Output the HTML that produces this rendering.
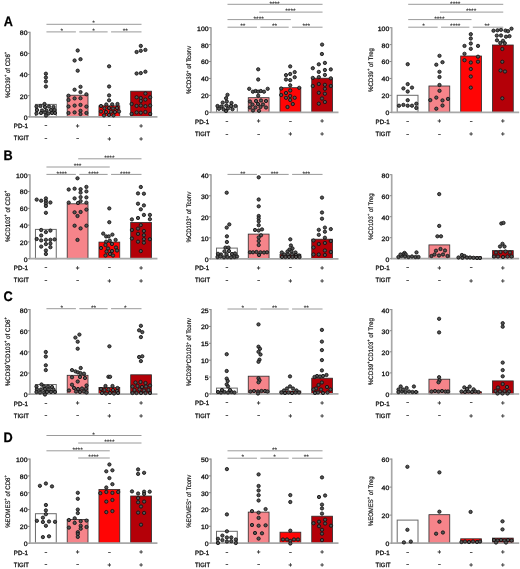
<!DOCTYPE html>
<html><head><meta charset="utf-8"><title>Figure</title><style>
html,body{margin:0;padding:0;background:#fff;}
svg{display:block;font-family:"Liberation Sans", Arial, sans-serif;text-rendering:geometricPrecision;}
.L{font-size:13.8px;font-weight:bold;fill:#000;stroke:#000;stroke-width:0.25;}
.bar{stroke:#2a2a2a;stroke-width:0.8;}
.bar0{stroke:#6a6a6a;stroke-width:1;}
.d{fill:#555;stroke:#111;stroke-width:0.85;}
.ax{stroke:#a8a8a8;stroke-width:1.7;fill:none;}
.sg{stroke:#9a9a9a;stroke-width:1;fill:none;}
.t{font-size:6.3px;text-anchor:end;fill:#111;stroke:#111;stroke-width:0.28;}
.st{font-size:6.6px;text-anchor:middle;fill:#111;stroke:#111;stroke-width:0.08;}
.r{font-size:6.2px;fill:#111;stroke:#111;stroke-width:0.3;}
.pm{font-size:6.3px;text-anchor:middle;fill:#222;stroke:#222;stroke-width:0.3;}
.yl{font-size:6.5px;text-anchor:middle;fill:#111;stroke:#111;stroke-width:0.18;}
.tk{stroke:#888;stroke-width:1;}
.mn{stroke:#333;stroke-width:0.85;}
.pl{stroke:#222;stroke-width:0.85;}
.sup{font-size:4.3px;}
</style></head>
<body><svg width="520" height="569" viewBox="0 0 520 569">
<text transform="translate(3.7 26.4) scale(0.92 1)" class="L">A</text>
<text transform="translate(3.5 160.4) scale(0.92 1)" class="L">B</text>
<text transform="translate(3.6 300.5) scale(0.92 1)" class="L">C</text>
<text transform="translate(3.5 442.4) scale(0.92 1)" class="L">D</text>
<rect x="35.45" y="104.4" width="20.8" height="12.4" fill="#ffffff" class="bar0"/>
<rect x="67.2" y="95.2" width="20.8" height="21.6" fill="#f6848a" class="bar"/>
<rect x="98.95" y="105.8" width="20.8" height="11" fill="#ff0505" class="bar"/>
<rect x="130.7" y="91.2" width="20.8" height="25.6" fill="#b40008" class="bar"/>
<path d="M29.95 31.8V116.8H157.45" class="ax"/>
<path d="M27.95 116.8H29.95" class="tk"/>
<text transform="translate(27.55 119.7) scale(1.1 1)" class="t">0</text>
<path d="M27.95 95.67H29.95" class="tk"/>
<text transform="translate(27.55 98.58) scale(1.1 1)" class="t">20</text>
<path d="M27.95 74.55H29.95" class="tk"/>
<text transform="translate(27.55 77.45) scale(1.1 1)" class="t">40</text>
<path d="M27.95 53.42H29.95" class="tk"/>
<text transform="translate(27.55 56.32) scale(1.1 1)" class="t">60</text>
<path d="M27.95 32.3H29.95" class="tk"/>
<text transform="translate(27.55 35.2) scale(1.1 1)" class="t">80</text>
<circle cx="45.9" cy="73.7" r="1.65" class="d"/>
<circle cx="45.9" cy="77.5" r="1.65" class="d"/>
<circle cx="45.9" cy="81.4" r="1.65" class="d"/>
<circle cx="45.9" cy="86.5" r="1.65" class="d"/>
<circle cx="44.5" cy="104" r="1.65" class="d"/>
<circle cx="36.5" cy="106.5" r="1.65" class="d"/>
<circle cx="40.5" cy="106" r="1.65" class="d"/>
<circle cx="45" cy="107" r="1.65" class="d"/>
<circle cx="49" cy="106.5" r="1.65" class="d"/>
<circle cx="53.5" cy="107" r="1.65" class="d"/>
<circle cx="37" cy="110" r="1.65" class="d"/>
<circle cx="42" cy="110.5" r="1.65" class="d"/>
<circle cx="46.5" cy="110.5" r="1.65" class="d"/>
<circle cx="51" cy="110" r="1.65" class="d"/>
<circle cx="54.5" cy="110" r="1.65" class="d"/>
<circle cx="36.5" cy="113.5" r="1.65" class="d"/>
<circle cx="41" cy="113" r="1.65" class="d"/>
<circle cx="45" cy="112.5" r="1.65" class="d"/>
<circle cx="48.5" cy="113.5" r="1.65" class="d"/>
<circle cx="52" cy="113" r="1.65" class="d"/>
<circle cx="55" cy="113" r="1.65" class="d"/>
<circle cx="46" cy="115.5" r="1.65" class="d"/>
<circle cx="77.7" cy="50.5" r="1.65" class="d"/>
<circle cx="74.6" cy="60.5" r="1.65" class="d"/>
<circle cx="80.5" cy="59.2" r="1.65" class="d"/>
<circle cx="77.7" cy="70.7" r="1.65" class="d"/>
<circle cx="74.6" cy="89.7" r="1.65" class="d"/>
<circle cx="80.5" cy="86.8" r="1.65" class="d"/>
<circle cx="80.5" cy="92.1" r="1.65" class="d"/>
<circle cx="86.4" cy="94.3" r="1.65" class="d"/>
<circle cx="68.5" cy="95.7" r="1.65" class="d"/>
<circle cx="68.5" cy="100" r="1.65" class="d"/>
<circle cx="74.6" cy="98.4" r="1.65" class="d"/>
<circle cx="80.5" cy="98.2" r="1.65" class="d"/>
<circle cx="68.5" cy="106.5" r="1.65" class="d"/>
<circle cx="74.6" cy="105.6" r="1.65" class="d"/>
<circle cx="80.5" cy="104.9" r="1.65" class="d"/>
<circle cx="86.4" cy="106.6" r="1.65" class="d"/>
<circle cx="68.5" cy="113" r="1.65" class="d"/>
<circle cx="74.6" cy="112.4" r="1.65" class="d"/>
<circle cx="80.5" cy="110.8" r="1.65" class="d"/>
<circle cx="80.5" cy="114" r="1.65" class="d"/>
<circle cx="86.4" cy="113" r="1.65" class="d"/>
<circle cx="109.1" cy="66.3" r="1.65" class="d"/>
<circle cx="109.1" cy="86.5" r="1.65" class="d"/>
<circle cx="109.1" cy="95.4" r="1.65" class="d"/>
<circle cx="109.1" cy="100.3" r="1.65" class="d"/>
<circle cx="106.3" cy="104.5" r="1.65" class="d"/>
<circle cx="112.2" cy="104.3" r="1.65" class="d"/>
<circle cx="117.5" cy="104" r="1.65" class="d"/>
<circle cx="101" cy="106" r="1.65" class="d"/>
<circle cx="104.5" cy="108.3" r="1.65" class="d"/>
<circle cx="109" cy="108" r="1.65" class="d"/>
<circle cx="113" cy="108.5" r="1.65" class="d"/>
<circle cx="117" cy="108" r="1.65" class="d"/>
<circle cx="101" cy="111.5" r="1.65" class="d"/>
<circle cx="106" cy="112" r="1.65" class="d"/>
<circle cx="111" cy="111.8" r="1.65" class="d"/>
<circle cx="115" cy="112" r="1.65" class="d"/>
<circle cx="119" cy="111.5" r="1.65" class="d"/>
<circle cx="104" cy="115.4" r="1.65" class="d"/>
<circle cx="109" cy="115" r="1.65" class="d"/>
<circle cx="113.5" cy="115.4" r="1.65" class="d"/>
<circle cx="140.8" cy="45.9" r="1.65" class="d"/>
<circle cx="136.6" cy="52" r="1.65" class="d"/>
<circle cx="140.8" cy="50.8" r="1.65" class="d"/>
<circle cx="145.4" cy="49.9" r="1.65" class="d"/>
<circle cx="136.6" cy="73.5" r="1.65" class="d"/>
<circle cx="140.8" cy="73.1" r="1.65" class="d"/>
<circle cx="145.4" cy="71.7" r="1.65" class="d"/>
<circle cx="145.4" cy="93.5" r="1.65" class="d"/>
<circle cx="136.6" cy="97.3" r="1.65" class="d"/>
<circle cx="140.8" cy="98" r="1.65" class="d"/>
<circle cx="150.2" cy="97.3" r="1.65" class="d"/>
<circle cx="140.8" cy="101" r="1.65" class="d"/>
<circle cx="145.4" cy="99.6" r="1.65" class="d"/>
<circle cx="131.6" cy="104" r="1.65" class="d"/>
<circle cx="136.6" cy="105.9" r="1.65" class="d"/>
<circle cx="140.8" cy="105.5" r="1.65" class="d"/>
<circle cx="145.4" cy="106.2" r="1.65" class="d"/>
<circle cx="150.2" cy="105.5" r="1.65" class="d"/>
<circle cx="136.6" cy="112.4" r="1.65" class="d"/>
<circle cx="140.8" cy="112.7" r="1.65" class="d"/>
<circle cx="145.4" cy="112" r="1.65" class="d"/>
<circle cx="131.6" cy="113.9" r="1.65" class="d"/>
<circle cx="150.2" cy="113.9" r="1.65" class="d"/>
<path d="M46.45 24.3H141.5" class="sg"/>
<text x="93.47" y="25.4" class="st">*</text>
<path d="M46.45 31.9H75.9" class="sg"/>
<text x="61.72" y="33" class="st">*</text>
<path d="M79.3 31.9H107.65" class="sg"/>
<text x="93.47" y="33" class="st">*</text>
<path d="M111.05 31.9H141.5" class="sg"/>
<text x="125.22" y="33" class="st">**</text>
<text x="13.8" y="128.3" class="r">PD-1</text>
<text x="13.8" y="140.47" class="r" textLength="15.0" lengthAdjust="spacingAndGlyphs">TIGIT</text>
<text transform="translate(45.85 127.2) scale(1.35 1)" class="pm">-</text>
<text transform="translate(45.85 140) scale(1.35 1)" class="pm">-</text>
<text x="77.6" y="127.95" class="pm">+</text>
<text transform="translate(77.6 140) scale(1.35 1)" class="pm">-</text>
<text transform="translate(109.35 127.2) scale(1.35 1)" class="pm">-</text>
<text x="109.35" y="140.75" class="pm">+</text>
<text x="141.1" y="127.95" class="pm">+</text>
<text x="141.1" y="140.75" class="pm">+</text>
<text transform="translate(10.1 74.9) rotate(-90)" class="yl" textLength="46.2" lengthAdjust="spacingAndGlyphs">%CD39<tspan class="sup" dy="-2.9">+</tspan><tspan dy="2.9">&#8203;</tspan>&#160;of&#160;CD8<tspan class="sup" dy="-2.9">+</tspan><tspan dy="2.9">&#8203;</tspan></text>
<rect x="216.5" y="105.9" width="20.8" height="6.4" fill="#ffffff" class="bar0"/>
<rect x="248.25" y="97.7" width="20.8" height="14.6" fill="#f6848a" class="bar"/>
<rect x="280" y="87.7" width="20.8" height="24.6" fill="#ff0505" class="bar"/>
<rect x="311.75" y="78.2" width="20.8" height="34.1" fill="#b40008" class="bar"/>
<path d="M211 27.2V112.3H338.5" class="ax"/>
<path d="M209 112.3H211" class="tk"/>
<text transform="translate(208.6 115.2) scale(1.1 1)" class="t">0</text>
<path d="M209 95.38H211" class="tk"/>
<text transform="translate(208.6 98.28) scale(1.1 1)" class="t">20</text>
<path d="M209 78.46H211" class="tk"/>
<text transform="translate(208.6 81.36) scale(1.1 1)" class="t">40</text>
<path d="M209 61.54H211" class="tk"/>
<text transform="translate(208.6 64.44) scale(1.1 1)" class="t">60</text>
<path d="M209 44.62H211" class="tk"/>
<text transform="translate(208.6 47.52) scale(1.1 1)" class="t">80</text>
<path d="M209 27.7H211" class="tk"/>
<text transform="translate(208.6 30.6) scale(1.1 1)" class="t">100</text>
<circle cx="227.5" cy="94.8" r="1.65" class="d"/>
<circle cx="226.1" cy="98.2" r="1.65" class="d"/>
<circle cx="222.7" cy="102.6" r="1.65" class="d"/>
<circle cx="226.8" cy="101.5" r="1.65" class="d"/>
<circle cx="231.5" cy="103" r="1.65" class="d"/>
<circle cx="217.5" cy="106" r="1.65" class="d"/>
<circle cx="221.5" cy="106.5" r="1.65" class="d"/>
<circle cx="226.5" cy="105.5" r="1.65" class="d"/>
<circle cx="231" cy="106" r="1.65" class="d"/>
<circle cx="235.5" cy="106" r="1.65" class="d"/>
<circle cx="219" cy="108.8" r="1.65" class="d"/>
<circle cx="223.5" cy="109.2" r="1.65" class="d"/>
<circle cx="228" cy="108.5" r="1.65" class="d"/>
<circle cx="232.5" cy="109.2" r="1.65" class="d"/>
<circle cx="226" cy="111" r="1.65" class="d"/>
<circle cx="258.2" cy="69.3" r="1.65" class="d"/>
<circle cx="258.2" cy="79.5" r="1.65" class="d"/>
<circle cx="249.2" cy="88.8" r="1.65" class="d"/>
<circle cx="252.9" cy="91.7" r="1.65" class="d"/>
<circle cx="255.6" cy="91" r="1.65" class="d"/>
<circle cx="258.2" cy="91.7" r="1.65" class="d"/>
<circle cx="260.8" cy="91" r="1.65" class="d"/>
<circle cx="264" cy="91.7" r="1.65" class="d"/>
<circle cx="267.7" cy="88.8" r="1.65" class="d"/>
<circle cx="258.2" cy="95.7" r="1.65" class="d"/>
<circle cx="250" cy="101.5" r="1.65" class="d"/>
<circle cx="256" cy="101" r="1.65" class="d"/>
<circle cx="261" cy="100.5" r="1.65" class="d"/>
<circle cx="266" cy="101" r="1.65" class="d"/>
<circle cx="252.5" cy="104.5" r="1.65" class="d"/>
<circle cx="258" cy="104" r="1.65" class="d"/>
<circle cx="263" cy="104.5" r="1.65" class="d"/>
<circle cx="250" cy="107.5" r="1.65" class="d"/>
<circle cx="255.5" cy="107.5" r="1.65" class="d"/>
<circle cx="260.5" cy="107" r="1.65" class="d"/>
<circle cx="266" cy="107.5" r="1.65" class="d"/>
<circle cx="253" cy="110.5" r="1.65" class="d"/>
<circle cx="259" cy="110.8" r="1.65" class="d"/>
<circle cx="290.2" cy="66.4" r="1.65" class="d"/>
<circle cx="286" cy="75.1" r="1.65" class="d"/>
<circle cx="290.2" cy="74" r="1.65" class="d"/>
<circle cx="294.7" cy="72.1" r="1.65" class="d"/>
<circle cx="286" cy="79.5" r="1.65" class="d"/>
<circle cx="290.2" cy="80.1" r="1.65" class="d"/>
<circle cx="294.7" cy="77.2" r="1.65" class="d"/>
<circle cx="290.2" cy="85.3" r="1.65" class="d"/>
<circle cx="281.2" cy="88.5" r="1.65" class="d"/>
<circle cx="299.2" cy="87.8" r="1.65" class="d"/>
<circle cx="290.2" cy="90.5" r="1.65" class="d"/>
<circle cx="286" cy="93" r="1.65" class="d"/>
<circle cx="281.2" cy="95" r="1.65" class="d"/>
<circle cx="290.2" cy="96" r="1.65" class="d"/>
<circle cx="286" cy="97.8" r="1.65" class="d"/>
<circle cx="294.7" cy="97.8" r="1.65" class="d"/>
<circle cx="290.2" cy="100" r="1.65" class="d"/>
<circle cx="292.8" cy="104" r="1.65" class="d"/>
<circle cx="287.5" cy="107" r="1.65" class="d"/>
<circle cx="322.1" cy="44.6" r="1.65" class="d"/>
<circle cx="321.9" cy="54" r="1.65" class="d"/>
<circle cx="318.8" cy="64.3" r="1.65" class="d"/>
<circle cx="324.9" cy="62.9" r="1.65" class="d"/>
<circle cx="312.8" cy="68.2" r="1.65" class="d"/>
<circle cx="318.8" cy="71.9" r="1.65" class="d"/>
<circle cx="324.9" cy="70" r="1.65" class="d"/>
<circle cx="330.8" cy="69.4" r="1.65" class="d"/>
<circle cx="324.9" cy="74.9" r="1.65" class="d"/>
<circle cx="312.8" cy="77.9" r="1.65" class="d"/>
<circle cx="318.8" cy="77.1" r="1.65" class="d"/>
<circle cx="330.8" cy="78.3" r="1.65" class="d"/>
<circle cx="318.8" cy="84" r="1.65" class="d"/>
<circle cx="324.9" cy="84.8" r="1.65" class="d"/>
<circle cx="312.8" cy="86" r="1.65" class="d"/>
<circle cx="330.8" cy="86" r="1.65" class="d"/>
<circle cx="324.9" cy="88.8" r="1.65" class="d"/>
<circle cx="318.8" cy="92.8" r="1.65" class="d"/>
<circle cx="324.9" cy="93.7" r="1.65" class="d"/>
<circle cx="322" cy="98.5" r="1.65" class="d"/>
<circle cx="324.9" cy="102" r="1.65" class="d"/>
<circle cx="318.8" cy="103.7" r="1.65" class="d"/>
<path d="M227.5 4.3H322.55" class="sg"/>
<text x="274.52" y="6.2" class="st">****</text>
<path d="M259.25 12.1H322.55" class="sg"/>
<text x="290.4" y="13.2" class="st">****</text>
<path d="M227.5 19.6H290.8" class="sg"/>
<text x="258.65" y="20.7" class="st">****</text>
<path d="M227.5 27.2H256.95" class="sg"/>
<text x="242.77" y="28.3" class="st">**</text>
<path d="M260.35 27.2H288.7" class="sg"/>
<text x="274.52" y="28.3" class="st">**</text>
<path d="M292.1 27.2H322.55" class="sg"/>
<text x="306.27" y="28.3" class="st">***</text>
<text x="195" y="123.8" class="r">PD-1</text>
<text x="195" y="135.97" class="r" textLength="15.0" lengthAdjust="spacingAndGlyphs">TIGIT</text>
<text transform="translate(226.9 122.7) scale(1.35 1)" class="pm">-</text>
<text transform="translate(226.9 135.5) scale(1.35 1)" class="pm">-</text>
<text x="258.65" y="123.45" class="pm">+</text>
<text transform="translate(258.65 135.5) scale(1.35 1)" class="pm">-</text>
<text transform="translate(290.4 122.7) scale(1.35 1)" class="pm">-</text>
<text x="290.4" y="136.25" class="pm">+</text>
<text x="322.15" y="123.45" class="pm">+</text>
<text x="322.15" y="136.25" class="pm">+</text>
<text transform="translate(191.4 70) rotate(-90)" class="yl" textLength="48" lengthAdjust="spacingAndGlyphs">%CD39<tspan class="sup" dy="-2.9">+</tspan><tspan dy="2.9">&#8203;</tspan>&#160;of&#160;Tconv</text>
<rect x="397.2" y="95.3" width="20.8" height="17" fill="#ffffff" class="bar0"/>
<rect x="428.95" y="86" width="20.8" height="26.3" fill="#f6848a" class="bar"/>
<rect x="460.7" y="56" width="20.8" height="56.3" fill="#ff0505" class="bar"/>
<rect x="492.45" y="45" width="20.8" height="67.3" fill="#b40008" class="bar"/>
<path d="M391.7 27.2V112.3H519.2" class="ax"/>
<path d="M389.7 112.3H391.7" class="tk"/>
<text transform="translate(389.3 115.2) scale(1.1 1)" class="t">0</text>
<path d="M389.7 95.38H391.7" class="tk"/>
<text transform="translate(389.3 98.28) scale(1.1 1)" class="t">20</text>
<path d="M389.7 78.46H391.7" class="tk"/>
<text transform="translate(389.3 81.36) scale(1.1 1)" class="t">40</text>
<path d="M389.7 61.54H391.7" class="tk"/>
<text transform="translate(389.3 64.44) scale(1.1 1)" class="t">60</text>
<path d="M389.7 44.62H391.7" class="tk"/>
<text transform="translate(389.3 47.52) scale(1.1 1)" class="t">80</text>
<path d="M389.7 27.7H391.7" class="tk"/>
<text transform="translate(389.3 30.6) scale(1.1 1)" class="t">100</text>
<circle cx="407.7" cy="64.2" r="1.65" class="d"/>
<circle cx="407.7" cy="84.1" r="1.65" class="d"/>
<circle cx="403.4" cy="88.4" r="1.65" class="d"/>
<circle cx="412" cy="87.6" r="1.65" class="d"/>
<circle cx="407.7" cy="91.5" r="1.65" class="d"/>
<circle cx="407.7" cy="100.2" r="1.65" class="d"/>
<circle cx="399" cy="105.7" r="1.65" class="d"/>
<circle cx="403.4" cy="104.9" r="1.65" class="d"/>
<circle cx="407.7" cy="105.7" r="1.65" class="d"/>
<circle cx="412" cy="105.7" r="1.65" class="d"/>
<circle cx="416.3" cy="103.7" r="1.65" class="d"/>
<circle cx="416.3" cy="108" r="1.65" class="d"/>
<circle cx="439.5" cy="55.8" r="1.65" class="d"/>
<circle cx="442.5" cy="62.2" r="1.65" class="d"/>
<circle cx="436.3" cy="64.7" r="1.65" class="d"/>
<circle cx="439.5" cy="71.8" r="1.65" class="d"/>
<circle cx="439.5" cy="77" r="1.65" class="d"/>
<circle cx="439.5" cy="85" r="1.65" class="d"/>
<circle cx="439.5" cy="90.8" r="1.65" class="d"/>
<circle cx="430.3" cy="100.1" r="1.65" class="d"/>
<circle cx="436.3" cy="97.6" r="1.65" class="d"/>
<circle cx="442.5" cy="100.4" r="1.65" class="d"/>
<circle cx="448" cy="98.9" r="1.65" class="d"/>
<circle cx="442.5" cy="105.5" r="1.65" class="d"/>
<circle cx="436.3" cy="108.7" r="1.65" class="d"/>
<circle cx="470.8" cy="34.2" r="1.65" class="d"/>
<circle cx="470.8" cy="38.5" r="1.65" class="d"/>
<circle cx="470.8" cy="43.5" r="1.65" class="d"/>
<circle cx="464.5" cy="45.9" r="1.65" class="d"/>
<circle cx="478" cy="45.9" r="1.65" class="d"/>
<circle cx="470.8" cy="48.8" r="1.65" class="d"/>
<circle cx="464.5" cy="53.8" r="1.65" class="d"/>
<circle cx="478" cy="56.7" r="1.65" class="d"/>
<circle cx="464.5" cy="60.2" r="1.65" class="d"/>
<circle cx="470.8" cy="62.5" r="1.65" class="d"/>
<circle cx="478" cy="61.7" r="1.65" class="d"/>
<circle cx="470.8" cy="69" r="1.65" class="d"/>
<circle cx="470.8" cy="76.5" r="1.65" class="d"/>
<circle cx="470.8" cy="87.6" r="1.65" class="d"/>
<circle cx="493.5" cy="30.7" r="1.65" class="d"/>
<circle cx="497.5" cy="30.3" r="1.65" class="d"/>
<circle cx="501" cy="29.8" r="1.65" class="d"/>
<circle cx="505.5" cy="30.6" r="1.65" class="d"/>
<circle cx="508" cy="31.2" r="1.65" class="d"/>
<circle cx="511.5" cy="28.7" r="1.65" class="d"/>
<circle cx="496.8" cy="35.6" r="1.65" class="d"/>
<circle cx="501" cy="35.5" r="1.65" class="d"/>
<circle cx="506" cy="36.7" r="1.65" class="d"/>
<circle cx="509.5" cy="36.2" r="1.65" class="d"/>
<circle cx="497" cy="40.3" r="1.65" class="d"/>
<circle cx="503" cy="40.8" r="1.65" class="d"/>
<circle cx="500.3" cy="43" r="1.65" class="d"/>
<circle cx="504.8" cy="43.2" r="1.65" class="d"/>
<circle cx="502.3" cy="49" r="1.65" class="d"/>
<circle cx="502.3" cy="61.8" r="1.65" class="d"/>
<circle cx="500.5" cy="70.5" r="1.65" class="d"/>
<circle cx="505" cy="71.5" r="1.65" class="d"/>
<circle cx="502.3" cy="98.3" r="1.65" class="d"/>
<path d="M408.2 4.3H503.25" class="sg"/>
<text x="455.23" y="6.2" class="st">****</text>
<path d="M439.95 12.1H503.25" class="sg"/>
<text x="471.1" y="13.2" class="st">****</text>
<path d="M408.2 19.6H471.5" class="sg"/>
<text x="439.35" y="20.7" class="st">****</text>
<path d="M408.2 27.2H437.65" class="sg"/>
<text x="423.47" y="28.3" class="st">*</text>
<path d="M441.05 27.2H469.4" class="sg"/>
<text x="455.23" y="28.3" class="st">****</text>
<path d="M472.8 27.2H503.25" class="sg"/>
<text x="486.98" y="28.3" class="st">**</text>
<text x="375.6" y="123.8" class="r">PD-1</text>
<text x="375.6" y="135.97" class="r" textLength="15.0" lengthAdjust="spacingAndGlyphs">TIGIT</text>
<text transform="translate(407.6 122.7) scale(1.35 1)" class="pm">-</text>
<text transform="translate(407.6 135.5) scale(1.35 1)" class="pm">-</text>
<text x="439.35" y="123.45" class="pm">+</text>
<text transform="translate(439.35 135.5) scale(1.35 1)" class="pm">-</text>
<text transform="translate(471.1 122.7) scale(1.35 1)" class="pm">-</text>
<text x="471.1" y="136.25" class="pm">+</text>
<text x="502.85" y="123.45" class="pm">+</text>
<text x="502.85" y="136.25" class="pm">+</text>
<text transform="translate(372.6 70) rotate(-90)" class="yl" textLength="44" lengthAdjust="spacingAndGlyphs">%CD39<tspan class="sup" dy="-2.9">+</tspan><tspan dy="2.9">&#8203;</tspan>&#160;of&#160;Treg</text>
<rect x="35.45" y="229.4" width="20.8" height="29.3" fill="#ffffff" class="bar0"/>
<rect x="67.2" y="203.8" width="20.8" height="54.9" fill="#f6848a" class="bar"/>
<rect x="98.95" y="242.1" width="20.8" height="16.6" fill="#ff0505" class="bar"/>
<rect x="130.7" y="222.5" width="20.8" height="36.2" fill="#b40008" class="bar"/>
<path d="M29.95 174.3V258.7H157.45" class="ax"/>
<path d="M27.95 258.7H29.95" class="tk"/>
<text transform="translate(27.55 261.6) scale(1.1 1)" class="t">0</text>
<path d="M27.95 241.92H29.95" class="tk"/>
<text transform="translate(27.55 244.82) scale(1.1 1)" class="t">20</text>
<path d="M27.95 225.14H29.95" class="tk"/>
<text transform="translate(27.55 228.04) scale(1.1 1)" class="t">40</text>
<path d="M27.95 208.36H29.95" class="tk"/>
<text transform="translate(27.55 211.26) scale(1.1 1)" class="t">60</text>
<path d="M27.95 191.58H29.95" class="tk"/>
<text transform="translate(27.55 194.48) scale(1.1 1)" class="t">80</text>
<path d="M27.95 174.8H29.95" class="tk"/>
<text transform="translate(27.55 177.7) scale(1.1 1)" class="t">100</text>
<circle cx="36.7" cy="199.6" r="1.65" class="d"/>
<circle cx="41.2" cy="200.7" r="1.65" class="d"/>
<circle cx="45.9" cy="198.4" r="1.65" class="d"/>
<circle cx="45.9" cy="201.1" r="1.65" class="d"/>
<circle cx="45.9" cy="203.5" r="1.65" class="d"/>
<circle cx="50.4" cy="202.5" r="1.65" class="d"/>
<circle cx="45.9" cy="206" r="1.65" class="d"/>
<circle cx="45.9" cy="212.8" r="1.65" class="d"/>
<circle cx="41.2" cy="230" r="1.65" class="d"/>
<circle cx="45.9" cy="232.1" r="1.65" class="d"/>
<circle cx="50.4" cy="230.6" r="1.65" class="d"/>
<circle cx="41.2" cy="235.5" r="1.65" class="d"/>
<circle cx="36.7" cy="239" r="1.65" class="d"/>
<circle cx="41.2" cy="240.4" r="1.65" class="d"/>
<circle cx="45.9" cy="239.8" r="1.65" class="d"/>
<circle cx="50.4" cy="239.8" r="1.65" class="d"/>
<circle cx="54.6" cy="239.4" r="1.65" class="d"/>
<circle cx="45.9" cy="244.1" r="1.65" class="d"/>
<circle cx="50.4" cy="243.5" r="1.65" class="d"/>
<circle cx="41.2" cy="246.6" r="1.65" class="d"/>
<circle cx="50.4" cy="247.2" r="1.65" class="d"/>
<circle cx="45.9" cy="250.5" r="1.65" class="d"/>
<circle cx="45.9" cy="254" r="1.65" class="d"/>
<circle cx="77.5" cy="178.3" r="1.65" class="d"/>
<circle cx="68.7" cy="189.5" r="1.65" class="d"/>
<circle cx="74.6" cy="188.7" r="1.65" class="d"/>
<circle cx="80.6" cy="189.2" r="1.65" class="d"/>
<circle cx="86.4" cy="186.9" r="1.65" class="d"/>
<circle cx="80.6" cy="192.6" r="1.65" class="d"/>
<circle cx="86.4" cy="191.4" r="1.65" class="d"/>
<circle cx="74.6" cy="198.4" r="1.65" class="d"/>
<circle cx="80.6" cy="197.1" r="1.65" class="d"/>
<circle cx="86.4" cy="197.4" r="1.65" class="d"/>
<circle cx="80.6" cy="201.1" r="1.65" class="d"/>
<circle cx="68.7" cy="202.6" r="1.65" class="d"/>
<circle cx="78" cy="203" r="1.65" class="d"/>
<circle cx="86.4" cy="202.6" r="1.65" class="d"/>
<circle cx="86.4" cy="209.6" r="1.65" class="d"/>
<circle cx="74.6" cy="212.3" r="1.65" class="d"/>
<circle cx="80.6" cy="212" r="1.65" class="d"/>
<circle cx="77.5" cy="216" r="1.65" class="d"/>
<circle cx="74.6" cy="225.7" r="1.65" class="d"/>
<circle cx="86.4" cy="225.7" r="1.65" class="d"/>
<circle cx="80.6" cy="228.4" r="1.65" class="d"/>
<circle cx="77.5" cy="239.9" r="1.65" class="d"/>
<circle cx="109.3" cy="208.4" r="1.65" class="d"/>
<circle cx="109.3" cy="222.2" r="1.65" class="d"/>
<circle cx="103.2" cy="233.6" r="1.65" class="d"/>
<circle cx="106.1" cy="236.4" r="1.65" class="d"/>
<circle cx="108.7" cy="236.4" r="1.65" class="d"/>
<circle cx="112.4" cy="234.6" r="1.65" class="d"/>
<circle cx="115.6" cy="239.9" r="1.65" class="d"/>
<circle cx="109.8" cy="240.7" r="1.65" class="d"/>
<circle cx="106.1" cy="241.7" r="1.65" class="d"/>
<circle cx="105.5" cy="245" r="1.65" class="d"/>
<circle cx="112" cy="244" r="1.65" class="d"/>
<circle cx="101" cy="248" r="1.65" class="d"/>
<circle cx="108" cy="248.5" r="1.65" class="d"/>
<circle cx="116" cy="247.5" r="1.65" class="d"/>
<circle cx="106.5" cy="251.5" r="1.65" class="d"/>
<circle cx="112" cy="251" r="1.65" class="d"/>
<circle cx="117" cy="250.5" r="1.65" class="d"/>
<circle cx="110" cy="254" r="1.65" class="d"/>
<circle cx="105.5" cy="255.5" r="1.65" class="d"/>
<circle cx="113" cy="255.5" r="1.65" class="d"/>
<circle cx="140.8" cy="187" r="1.65" class="d"/>
<circle cx="138" cy="193.4" r="1.65" class="d"/>
<circle cx="143.9" cy="193.7" r="1.65" class="d"/>
<circle cx="138" cy="203.7" r="1.65" class="d"/>
<circle cx="143.9" cy="205.4" r="1.65" class="d"/>
<circle cx="140.8" cy="209.3" r="1.65" class="d"/>
<circle cx="143.9" cy="214.9" r="1.65" class="d"/>
<circle cx="149.9" cy="214.9" r="1.65" class="d"/>
<circle cx="131.9" cy="219.4" r="1.65" class="d"/>
<circle cx="138" cy="218" r="1.65" class="d"/>
<circle cx="149.9" cy="219.2" r="1.65" class="d"/>
<circle cx="140.8" cy="225.1" r="1.65" class="d"/>
<circle cx="131.9" cy="230" r="1.65" class="d"/>
<circle cx="138" cy="228.6" r="1.65" class="d"/>
<circle cx="143.9" cy="231" r="1.65" class="d"/>
<circle cx="138" cy="233.9" r="1.65" class="d"/>
<circle cx="143.9" cy="235.2" r="1.65" class="d"/>
<circle cx="131.9" cy="238.5" r="1.65" class="d"/>
<circle cx="143.9" cy="239.2" r="1.65" class="d"/>
<circle cx="149.9" cy="239.2" r="1.65" class="d"/>
<circle cx="138" cy="241.7" r="1.65" class="d"/>
<circle cx="143.9" cy="242.7" r="1.65" class="d"/>
<circle cx="140.8" cy="251.1" r="1.65" class="d"/>
<path d="M78.2 158.8H141.5" class="sg"/>
<text x="109.35" y="159.9" class="st">****</text>
<path d="M46.45 167H109.75" class="sg"/>
<text x="77.6" y="168.1" class="st">***</text>
<path d="M46.45 174.4H75.9" class="sg"/>
<text x="61.72" y="175.5" class="st">****</text>
<path d="M79.3 174.4H107.65" class="sg"/>
<text x="93.47" y="175.5" class="st">****</text>
<path d="M111.05 174.4H141.5" class="sg"/>
<text x="125.22" y="175.5" class="st">****</text>
<text x="13.8" y="270.2" class="r">PD-1</text>
<text x="13.8" y="282.37" class="r" textLength="15.0" lengthAdjust="spacingAndGlyphs">TIGIT</text>
<text transform="translate(45.85 269.1) scale(1.35 1)" class="pm">-</text>
<text transform="translate(45.85 281.9) scale(1.35 1)" class="pm">-</text>
<text x="77.6" y="269.85" class="pm">+</text>
<text transform="translate(77.6 281.9) scale(1.35 1)" class="pm">-</text>
<text transform="translate(109.35 269.1) scale(1.35 1)" class="pm">-</text>
<text x="109.35" y="282.65" class="pm">+</text>
<text x="141.1" y="269.85" class="pm">+</text>
<text x="141.1" y="282.65" class="pm">+</text>
<text transform="translate(10.1 216.25) rotate(-90)" class="yl" textLength="51.5" lengthAdjust="spacingAndGlyphs">%CD103<tspan class="sup" dy="-2.9">+</tspan><tspan dy="2.9">&#8203;</tspan>&#160;of&#160;CD8<tspan class="sup" dy="-2.9">+</tspan><tspan dy="2.9">&#8203;</tspan></text>
<rect x="216.5" y="248.1" width="20.8" height="10.7" fill="#ffffff" class="bar0"/>
<rect x="248.25" y="234.1" width="20.8" height="24.7" fill="#f6848a" class="bar"/>
<rect x="280" y="254.3" width="20.8" height="4.5" fill="#ff0505" class="bar"/>
<rect x="311.75" y="239.2" width="20.8" height="19.6" fill="#b40008" class="bar"/>
<path d="M211 174.3V258.8H338.5" class="ax"/>
<path d="M209 258.8H211" class="tk"/>
<text transform="translate(208.6 261.7) scale(1.1 1)" class="t">0</text>
<path d="M209 237.8H211" class="tk"/>
<text transform="translate(208.6 240.7) scale(1.1 1)" class="t">10</text>
<path d="M209 216.8H211" class="tk"/>
<text transform="translate(208.6 219.7) scale(1.1 1)" class="t">20</text>
<path d="M209 195.8H211" class="tk"/>
<text transform="translate(208.6 198.7) scale(1.1 1)" class="t">30</text>
<path d="M209 174.8H211" class="tk"/>
<text transform="translate(208.6 177.7) scale(1.1 1)" class="t">40</text>
<circle cx="226.7" cy="192.7" r="1.65" class="d"/>
<circle cx="229.3" cy="224.4" r="1.65" class="d"/>
<circle cx="226.7" cy="227.6" r="1.65" class="d"/>
<circle cx="226.9" cy="236.3" r="1.65" class="d"/>
<circle cx="226.9" cy="242" r="1.65" class="d"/>
<circle cx="225.5" cy="247.6" r="1.65" class="d"/>
<circle cx="228.5" cy="247.6" r="1.65" class="d"/>
<circle cx="224.5" cy="251.3" r="1.65" class="d"/>
<circle cx="229" cy="251" r="1.65" class="d"/>
<circle cx="218" cy="253.8" r="1.65" class="d"/>
<circle cx="221" cy="254.5" r="1.65" class="d"/>
<circle cx="226.5" cy="254.2" r="1.65" class="d"/>
<circle cx="232" cy="254" r="1.65" class="d"/>
<circle cx="235" cy="253.5" r="1.65" class="d"/>
<circle cx="217.5" cy="257" r="1.65" class="d"/>
<circle cx="220.5" cy="256.5" r="1.65" class="d"/>
<circle cx="224" cy="257.3" r="1.65" class="d"/>
<circle cx="227.5" cy="257" r="1.65" class="d"/>
<circle cx="231" cy="257.3" r="1.65" class="d"/>
<circle cx="234.5" cy="257" r="1.65" class="d"/>
<circle cx="237" cy="256.5" r="1.65" class="d"/>
<circle cx="258.7" cy="177.3" r="1.65" class="d"/>
<circle cx="258.7" cy="199.5" r="1.65" class="d"/>
<circle cx="258.7" cy="206.3" r="1.65" class="d"/>
<circle cx="258.7" cy="216" r="1.65" class="d"/>
<circle cx="258.7" cy="218.4" r="1.65" class="d"/>
<circle cx="258.7" cy="221.3" r="1.65" class="d"/>
<circle cx="258.7" cy="225.2" r="1.65" class="d"/>
<circle cx="255" cy="230" r="1.65" class="d"/>
<circle cx="258.7" cy="230.5" r="1.65" class="d"/>
<circle cx="262" cy="229.4" r="1.65" class="d"/>
<circle cx="261" cy="235.3" r="1.65" class="d"/>
<circle cx="258.7" cy="237.4" r="1.65" class="d"/>
<circle cx="258.7" cy="241" r="1.65" class="d"/>
<circle cx="258.7" cy="245" r="1.65" class="d"/>
<circle cx="250" cy="252.3" r="1.65" class="d"/>
<circle cx="253" cy="252.3" r="1.65" class="d"/>
<circle cx="256.5" cy="252" r="1.65" class="d"/>
<circle cx="260.5" cy="252.3" r="1.65" class="d"/>
<circle cx="264" cy="252.5" r="1.65" class="d"/>
<circle cx="267" cy="252.3" r="1.65" class="d"/>
<circle cx="259" cy="255" r="1.65" class="d"/>
<circle cx="290.3" cy="239.3" r="1.65" class="d"/>
<circle cx="290.9" cy="245.5" r="1.65" class="d"/>
<circle cx="292.5" cy="248.4" r="1.65" class="d"/>
<circle cx="289.5" cy="249.5" r="1.65" class="d"/>
<circle cx="287.5" cy="251.5" r="1.65" class="d"/>
<circle cx="291.5" cy="251.5" r="1.65" class="d"/>
<circle cx="295.5" cy="252.5" r="1.65" class="d"/>
<circle cx="281.8" cy="252.5" r="1.65" class="d"/>
<circle cx="284.5" cy="254.5" r="1.65" class="d"/>
<circle cx="288" cy="254.5" r="1.65" class="d"/>
<circle cx="292" cy="254.5" r="1.65" class="d"/>
<circle cx="296" cy="255" r="1.65" class="d"/>
<circle cx="299" cy="255.5" r="1.65" class="d"/>
<circle cx="282" cy="257" r="1.65" class="d"/>
<circle cx="285.5" cy="257" r="1.65" class="d"/>
<circle cx="289" cy="257" r="1.65" class="d"/>
<circle cx="292.5" cy="257" r="1.65" class="d"/>
<circle cx="296" cy="257" r="1.65" class="d"/>
<circle cx="299.5" cy="257" r="1.65" class="d"/>
<circle cx="322" cy="197.6" r="1.65" class="d"/>
<circle cx="322" cy="212.5" r="1.65" class="d"/>
<circle cx="322" cy="218.7" r="1.65" class="d"/>
<circle cx="318.8" cy="229.8" r="1.65" class="d"/>
<circle cx="324.9" cy="227.6" r="1.65" class="d"/>
<circle cx="324.9" cy="231.7" r="1.65" class="d"/>
<circle cx="330.8" cy="229.1" r="1.65" class="d"/>
<circle cx="318.8" cy="234.8" r="1.65" class="d"/>
<circle cx="324.9" cy="237.7" r="1.65" class="d"/>
<circle cx="313.5" cy="240.5" r="1.65" class="d"/>
<circle cx="318.8" cy="244" r="1.65" class="d"/>
<circle cx="324.9" cy="243" r="1.65" class="d"/>
<circle cx="330.8" cy="241" r="1.65" class="d"/>
<circle cx="313.5" cy="247.5" r="1.65" class="d"/>
<circle cx="324.9" cy="250.5" r="1.65" class="d"/>
<circle cx="318.8" cy="254.5" r="1.65" class="d"/>
<circle cx="324.9" cy="255" r="1.65" class="d"/>
<circle cx="330.8" cy="252" r="1.65" class="d"/>
<circle cx="313.5" cy="254.5" r="1.65" class="d"/>
<path d="M227.5 174.4H256.95" class="sg"/>
<text x="242.77" y="175.5" class="st">**</text>
<path d="M260.35 174.4H288.7" class="sg"/>
<text x="274.52" y="175.5" class="st">***</text>
<path d="M292.1 174.4H322.55" class="sg"/>
<text x="306.27" y="175.5" class="st">***</text>
<text x="195" y="270.3" class="r">PD-1</text>
<text x="195" y="282.47" class="r" textLength="15.0" lengthAdjust="spacingAndGlyphs">TIGIT</text>
<text transform="translate(226.9 269.2) scale(1.35 1)" class="pm">-</text>
<text transform="translate(226.9 282) scale(1.35 1)" class="pm">-</text>
<text x="258.65" y="269.95" class="pm">+</text>
<text transform="translate(258.65 282) scale(1.35 1)" class="pm">-</text>
<text transform="translate(290.4 269.2) scale(1.35 1)" class="pm">-</text>
<text x="290.4" y="282.75" class="pm">+</text>
<text x="322.15" y="269.95" class="pm">+</text>
<text x="322.15" y="282.75" class="pm">+</text>
<text transform="translate(191.4 217.15) rotate(-90)" class="yl" textLength="50.7" lengthAdjust="spacingAndGlyphs">%CD103<tspan class="sup" dy="-2.9">+</tspan><tspan dy="2.9">&#8203;</tspan>&#160;of&#160;Tconv</text>
<rect x="397.2" y="256.5" width="20.8" height="2.2" fill="#ffffff" class="bar0"/>
<rect x="428.95" y="244.9" width="20.8" height="13.8" fill="#f6848a" class="bar"/>
<rect x="460.7" y="256.9" width="20.8" height="1.8" fill="#ff0505" class="bar"/>
<rect x="492.45" y="250.6" width="20.8" height="8.1" fill="#b40008" class="bar"/>
<path d="M391.7 174.2V258.7H519.2" class="ax"/>
<path d="M389.7 258.7H391.7" class="tk"/>
<text transform="translate(389.3 261.6) scale(1.1 1)" class="t">0</text>
<path d="M389.7 237.7H391.7" class="tk"/>
<text transform="translate(389.3 240.6) scale(1.1 1)" class="t">20</text>
<path d="M389.7 216.7H391.7" class="tk"/>
<text transform="translate(389.3 219.6) scale(1.1 1)" class="t">40</text>
<path d="M389.7 195.7H391.7" class="tk"/>
<text transform="translate(389.3 198.6) scale(1.1 1)" class="t">60</text>
<path d="M389.7 174.7H391.7" class="tk"/>
<text transform="translate(389.3 177.6) scale(1.1 1)" class="t">80</text>
<circle cx="404.5" cy="252.9" r="1.65" class="d"/>
<circle cx="403.1" cy="254.3" r="1.65" class="d"/>
<circle cx="405.7" cy="254.3" r="1.65" class="d"/>
<circle cx="416.5" cy="252.4" r="1.65" class="d"/>
<circle cx="398.5" cy="257" r="1.65" class="d"/>
<circle cx="401.5" cy="256" r="1.65" class="d"/>
<circle cx="405" cy="256.5" r="1.65" class="d"/>
<circle cx="408.5" cy="257" r="1.65" class="d"/>
<circle cx="412" cy="256.5" r="1.65" class="d"/>
<circle cx="415.5" cy="257" r="1.65" class="d"/>
<circle cx="418.5" cy="257" r="1.65" class="d"/>
<circle cx="400.5" cy="254.5" r="1.65" class="d"/>
<circle cx="439.2" cy="194.1" r="1.65" class="d"/>
<circle cx="439.2" cy="225.9" r="1.65" class="d"/>
<circle cx="437.4" cy="236.3" r="1.65" class="d"/>
<circle cx="441" cy="236.3" r="1.65" class="d"/>
<circle cx="436" cy="250.7" r="1.65" class="d"/>
<circle cx="440.5" cy="249" r="1.65" class="d"/>
<circle cx="445" cy="250.5" r="1.65" class="d"/>
<circle cx="431.5" cy="256" r="1.65" class="d"/>
<circle cx="434.5" cy="254.5" r="1.65" class="d"/>
<circle cx="439" cy="255.5" r="1.65" class="d"/>
<circle cx="443" cy="254.5" r="1.65" class="d"/>
<circle cx="447.5" cy="256" r="1.65" class="d"/>
<circle cx="461.9" cy="255" r="1.65" class="d"/>
<circle cx="462.5" cy="257.8" r="1.65" class="d"/>
<circle cx="464.5" cy="256" r="1.65" class="d"/>
<circle cx="467" cy="257.5" r="1.65" class="d"/>
<circle cx="470" cy="257.5" r="1.65" class="d"/>
<circle cx="473.5" cy="257.8" r="1.65" class="d"/>
<circle cx="477" cy="258" r="1.65" class="d"/>
<circle cx="480" cy="258" r="1.65" class="d"/>
<circle cx="458.5" cy="257.5" r="1.65" class="d"/>
<circle cx="501.3" cy="223.5" r="1.65" class="d"/>
<circle cx="503.5" cy="222.9" r="1.65" class="d"/>
<circle cx="502.5" cy="243.8" r="1.65" class="d"/>
<circle cx="500" cy="246.5" r="1.65" class="d"/>
<circle cx="504.5" cy="246.5" r="1.65" class="d"/>
<circle cx="496" cy="252.5" r="1.65" class="d"/>
<circle cx="500.5" cy="252" r="1.65" class="d"/>
<circle cx="505.5" cy="251.5" r="1.65" class="d"/>
<circle cx="510" cy="252.5" r="1.65" class="d"/>
<circle cx="494" cy="256.5" r="1.65" class="d"/>
<circle cx="498" cy="256.5" r="1.65" class="d"/>
<circle cx="503" cy="257" r="1.65" class="d"/>
<circle cx="507.5" cy="256.5" r="1.65" class="d"/>
<circle cx="511.5" cy="256.5" r="1.65" class="d"/>
<text x="375.6" y="270.2" class="r">PD-1</text>
<text x="375.6" y="282.37" class="r" textLength="15.0" lengthAdjust="spacingAndGlyphs">TIGIT</text>
<text transform="translate(407.6 269.1) scale(1.35 1)" class="pm">-</text>
<text transform="translate(407.6 281.9) scale(1.35 1)" class="pm">-</text>
<text x="439.35" y="269.85" class="pm">+</text>
<text transform="translate(439.35 281.9) scale(1.35 1)" class="pm">-</text>
<text transform="translate(471.1 269.1) scale(1.35 1)" class="pm">-</text>
<text x="471.1" y="282.65" class="pm">+</text>
<text x="502.85" y="269.85" class="pm">+</text>
<text x="502.85" y="282.65" class="pm">+</text>
<text transform="translate(372.6 216.7) rotate(-90)" class="yl" textLength="46.6" lengthAdjust="spacingAndGlyphs">%CD103<tspan class="sup" dy="-2.9">+</tspan><tspan dy="2.9">&#8203;</tspan>&#160;of&#160;Treg</text>
<rect x="35.45" y="384.5" width="20.8" height="9.7" fill="#ffffff" class="bar0"/>
<rect x="67.2" y="375.3" width="20.8" height="18.9" fill="#f6848a" class="bar"/>
<rect x="98.95" y="387.5" width="20.8" height="6.7" fill="#ff0505" class="bar"/>
<rect x="130.7" y="374.8" width="20.8" height="19.4" fill="#b40008" class="bar"/>
<path d="M29.95 309.1V394.2H157.45" class="ax"/>
<path d="M27.95 394.2H29.95" class="tk"/>
<text transform="translate(27.55 397.1) scale(1.1 1)" class="t">0</text>
<path d="M27.95 373.05H29.95" class="tk"/>
<text transform="translate(27.55 375.95) scale(1.1 1)" class="t">20</text>
<path d="M27.95 351.9H29.95" class="tk"/>
<text transform="translate(27.55 354.8) scale(1.1 1)" class="t">40</text>
<path d="M27.95 330.75H29.95" class="tk"/>
<text transform="translate(27.55 333.65) scale(1.1 1)" class="t">60</text>
<path d="M27.95 309.6H29.95" class="tk"/>
<text transform="translate(27.55 312.5) scale(1.1 1)" class="t">80</text>
<circle cx="45.8" cy="352" r="1.65" class="d"/>
<circle cx="45.8" cy="356.5" r="1.65" class="d"/>
<circle cx="45.8" cy="365.3" r="1.65" class="d"/>
<circle cx="45.8" cy="370.1" r="1.65" class="d"/>
<circle cx="41.5" cy="384.5" r="1.65" class="d"/>
<circle cx="36.5" cy="386.5" r="1.65" class="d"/>
<circle cx="44" cy="386.5" r="1.65" class="d"/>
<circle cx="48" cy="386.5" r="1.65" class="d"/>
<circle cx="52" cy="387" r="1.65" class="d"/>
<circle cx="37" cy="389.5" r="1.65" class="d"/>
<circle cx="41" cy="389.5" r="1.65" class="d"/>
<circle cx="45" cy="389" r="1.65" class="d"/>
<circle cx="49" cy="389.5" r="1.65" class="d"/>
<circle cx="53.5" cy="389.5" r="1.65" class="d"/>
<circle cx="36.5" cy="392" r="1.65" class="d"/>
<circle cx="40" cy="392.5" r="1.65" class="d"/>
<circle cx="44" cy="392.5" r="1.65" class="d"/>
<circle cx="47" cy="392" r="1.65" class="d"/>
<circle cx="51" cy="392" r="1.65" class="d"/>
<circle cx="55" cy="392" r="1.65" class="d"/>
<circle cx="45" cy="394.5" r="1.65" class="d"/>
<circle cx="79.4" cy="334.6" r="1.65" class="d"/>
<circle cx="75.4" cy="337.6" r="1.65" class="d"/>
<circle cx="77.7" cy="341.7" r="1.65" class="d"/>
<circle cx="77.7" cy="348.7" r="1.65" class="d"/>
<circle cx="80.7" cy="368" r="1.65" class="d"/>
<circle cx="72" cy="370.1" r="1.65" class="d"/>
<circle cx="75.5" cy="371.4" r="1.65" class="d"/>
<circle cx="78" cy="372.4" r="1.65" class="d"/>
<circle cx="80.5" cy="373.1" r="1.65" class="d"/>
<circle cx="84" cy="373.7" r="1.65" class="d"/>
<circle cx="72" cy="377.3" r="1.65" class="d"/>
<circle cx="80" cy="377" r="1.65" class="d"/>
<circle cx="85" cy="378" r="1.65" class="d"/>
<circle cx="77.7" cy="381.5" r="1.65" class="d"/>
<circle cx="72" cy="384.7" r="1.65" class="d"/>
<circle cx="86.5" cy="385.5" r="1.65" class="d"/>
<circle cx="74" cy="388" r="1.65" class="d"/>
<circle cx="78" cy="389" r="1.65" class="d"/>
<circle cx="82" cy="388.5" r="1.65" class="d"/>
<circle cx="86" cy="388.8" r="1.65" class="d"/>
<circle cx="69" cy="390.5" r="1.65" class="d"/>
<circle cx="76" cy="391.5" r="1.65" class="d"/>
<circle cx="80" cy="392" r="1.65" class="d"/>
<circle cx="84" cy="391.5" r="1.65" class="d"/>
<circle cx="86.5" cy="392.5" r="1.65" class="d"/>
<circle cx="109.4" cy="346.3" r="1.65" class="d"/>
<circle cx="108.4" cy="376.8" r="1.65" class="d"/>
<circle cx="110.1" cy="376.8" r="1.65" class="d"/>
<circle cx="105.5" cy="386" r="1.65" class="d"/>
<circle cx="112.5" cy="386" r="1.65" class="d"/>
<circle cx="117.5" cy="388" r="1.65" class="d"/>
<circle cx="101" cy="389" r="1.65" class="d"/>
<circle cx="104.5" cy="390" r="1.65" class="d"/>
<circle cx="108.5" cy="389.5" r="1.65" class="d"/>
<circle cx="113" cy="390" r="1.65" class="d"/>
<circle cx="117" cy="391" r="1.65" class="d"/>
<circle cx="102" cy="393" r="1.65" class="d"/>
<circle cx="106" cy="393.5" r="1.65" class="d"/>
<circle cx="110" cy="393" r="1.65" class="d"/>
<circle cx="114" cy="393.5" r="1.65" class="d"/>
<circle cx="118" cy="393" r="1.65" class="d"/>
<circle cx="140.9" cy="325.8" r="1.65" class="d"/>
<circle cx="139.1" cy="330.3" r="1.65" class="d"/>
<circle cx="142.3" cy="332.1" r="1.65" class="d"/>
<circle cx="140.9" cy="337.1" r="1.65" class="d"/>
<circle cx="139.1" cy="357" r="1.65" class="d"/>
<circle cx="142.3" cy="356.3" r="1.65" class="d"/>
<circle cx="140.9" cy="361.1" r="1.65" class="d"/>
<circle cx="135.5" cy="382.5" r="1.65" class="d"/>
<circle cx="140.5" cy="382" r="1.65" class="d"/>
<circle cx="145.5" cy="383" r="1.65" class="d"/>
<circle cx="132.5" cy="386.5" r="1.65" class="d"/>
<circle cx="137.5" cy="386" r="1.65" class="d"/>
<circle cx="142" cy="387" r="1.65" class="d"/>
<circle cx="146" cy="386.5" r="1.65" class="d"/>
<circle cx="150" cy="385.5" r="1.65" class="d"/>
<circle cx="134.5" cy="390" r="1.65" class="d"/>
<circle cx="139.5" cy="389.5" r="1.65" class="d"/>
<circle cx="144" cy="390.5" r="1.65" class="d"/>
<circle cx="148.5" cy="390" r="1.65" class="d"/>
<circle cx="132.5" cy="393" r="1.65" class="d"/>
<circle cx="136.5" cy="393" r="1.65" class="d"/>
<circle cx="141" cy="393" r="1.65" class="d"/>
<circle cx="145.5" cy="393" r="1.65" class="d"/>
<circle cx="150" cy="393" r="1.65" class="d"/>
<path d="M46.45 308.7H75.9" class="sg"/>
<text x="61.72" y="309.8" class="st">*</text>
<path d="M79.3 308.7H107.65" class="sg"/>
<text x="93.47" y="309.8" class="st">**</text>
<path d="M111.05 308.7H141.5" class="sg"/>
<text x="125.22" y="309.8" class="st">*</text>
<text x="13.8" y="405.7" class="r">PD-1</text>
<text x="13.8" y="417.87" class="r" textLength="15.0" lengthAdjust="spacingAndGlyphs">TIGIT</text>
<text transform="translate(45.85 404.6) scale(1.35 1)" class="pm">-</text>
<text transform="translate(45.85 417.4) scale(1.35 1)" class="pm">-</text>
<text x="77.6" y="405.35" class="pm">+</text>
<text transform="translate(77.6 417.4) scale(1.35 1)" class="pm">-</text>
<text transform="translate(109.35 404.6) scale(1.35 1)" class="pm">-</text>
<text x="109.35" y="418.15" class="pm">+</text>
<text x="141.1" y="405.35" class="pm">+</text>
<text x="141.1" y="418.15" class="pm">+</text>
<text transform="translate(10.1 351.75) rotate(-90)" class="yl" textLength="69.1" lengthAdjust="spacingAndGlyphs">%CD39<tspan class="sup" dy="-2.9">+</tspan><tspan dy="2.9">&#8203;</tspan>CD103<tspan class="sup" dy="-2.9">+</tspan><tspan dy="2.9">&#8203;</tspan>&#160;of&#160;CD8<tspan class="sup" dy="-2.9">+</tspan><tspan dy="2.9">&#8203;</tspan></text>
<rect x="216.5" y="388.1" width="20.8" height="5.8" fill="#ffffff" class="bar0"/>
<rect x="248.25" y="376.2" width="20.8" height="17.7" fill="#f6848a" class="bar"/>
<rect x="280" y="391" width="20.8" height="2.9" fill="#ff0505" class="bar"/>
<rect x="311.75" y="378.2" width="20.8" height="15.7" fill="#b40008" class="bar"/>
<path d="M211 309.1V393.9H338.5" class="ax"/>
<path d="M209 393.9H211" class="tk"/>
<text transform="translate(208.6 396.8) scale(1.1 1)" class="t">0</text>
<path d="M209 377.04H211" class="tk"/>
<text transform="translate(208.6 379.94) scale(1.1 1)" class="t">5</text>
<path d="M209 360.18H211" class="tk"/>
<text transform="translate(208.6 363.08) scale(1.1 1)" class="t">10</text>
<path d="M209 343.32H211" class="tk"/>
<text transform="translate(208.6 346.22) scale(1.1 1)" class="t">15</text>
<path d="M209 326.46H211" class="tk"/>
<text transform="translate(208.6 329.36) scale(1.1 1)" class="t">20</text>
<path d="M209 309.6H211" class="tk"/>
<text transform="translate(208.6 312.5) scale(1.1 1)" class="t">25</text>
<circle cx="226.7" cy="354.2" r="1.65" class="d"/>
<circle cx="226.7" cy="371" r="1.65" class="d"/>
<circle cx="226.7" cy="378.6" r="1.65" class="d"/>
<circle cx="227.7" cy="381" r="1.65" class="d"/>
<circle cx="226.7" cy="384.4" r="1.65" class="d"/>
<circle cx="228" cy="386.4" r="1.65" class="d"/>
<circle cx="218" cy="392" r="1.65" class="d"/>
<circle cx="221" cy="392.5" r="1.65" class="d"/>
<circle cx="224.5" cy="392" r="1.65" class="d"/>
<circle cx="228" cy="392.5" r="1.65" class="d"/>
<circle cx="231.5" cy="392" r="1.65" class="d"/>
<circle cx="234.5" cy="392.5" r="1.65" class="d"/>
<circle cx="222" cy="390" r="1.65" class="d"/>
<circle cx="230" cy="390" r="1.65" class="d"/>
<circle cx="258.5" cy="324.4" r="1.65" class="d"/>
<circle cx="258.5" cy="346.7" r="1.65" class="d"/>
<circle cx="260" cy="348.8" r="1.65" class="d"/>
<circle cx="258.5" cy="351.8" r="1.65" class="d"/>
<circle cx="260.5" cy="354.5" r="1.65" class="d"/>
<circle cx="259.5" cy="359.7" r="1.65" class="d"/>
<circle cx="258.5" cy="361.8" r="1.65" class="d"/>
<circle cx="258.5" cy="378.2" r="1.65" class="d"/>
<circle cx="259.5" cy="380.3" r="1.65" class="d"/>
<circle cx="258.5" cy="382.3" r="1.65" class="d"/>
<circle cx="250.5" cy="391.5" r="1.65" class="d"/>
<circle cx="254" cy="391" r="1.65" class="d"/>
<circle cx="258" cy="391.5" r="1.65" class="d"/>
<circle cx="261.5" cy="391" r="1.65" class="d"/>
<circle cx="265" cy="391" r="1.65" class="d"/>
<circle cx="267.5" cy="391.5" r="1.65" class="d"/>
<circle cx="258" cy="393.5" r="1.65" class="d"/>
<circle cx="290" cy="376.4" r="1.65" class="d"/>
<circle cx="290" cy="386.4" r="1.65" class="d"/>
<circle cx="287" cy="388.5" r="1.65" class="d"/>
<circle cx="293" cy="388.5" r="1.65" class="d"/>
<circle cx="284" cy="390.5" r="1.65" class="d"/>
<circle cx="296.5" cy="390.5" r="1.65" class="d"/>
<circle cx="281.5" cy="392.5" r="1.65" class="d"/>
<circle cx="285" cy="393" r="1.65" class="d"/>
<circle cx="288.5" cy="392.5" r="1.65" class="d"/>
<circle cx="292" cy="393" r="1.65" class="d"/>
<circle cx="295.5" cy="392.5" r="1.65" class="d"/>
<circle cx="299" cy="392.5" r="1.65" class="d"/>
<circle cx="321.9" cy="329.9" r="1.65" class="d"/>
<circle cx="321.9" cy="341.6" r="1.65" class="d"/>
<circle cx="321.9" cy="350.1" r="1.65" class="d"/>
<circle cx="321.9" cy="360.1" r="1.65" class="d"/>
<circle cx="321.9" cy="370.4" r="1.65" class="d"/>
<circle cx="317" cy="376" r="1.65" class="d"/>
<circle cx="320" cy="376.5" r="1.65" class="d"/>
<circle cx="323" cy="376" r="1.65" class="d"/>
<circle cx="326.5" cy="375" r="1.65" class="d"/>
<circle cx="314.5" cy="377" r="1.65" class="d"/>
<circle cx="321.9" cy="382.5" r="1.65" class="d"/>
<circle cx="318.5" cy="385" r="1.65" class="d"/>
<circle cx="316" cy="388.5" r="1.65" class="d"/>
<circle cx="327" cy="387" r="1.65" class="d"/>
<circle cx="313.5" cy="389.5" r="1.65" class="d"/>
<circle cx="321" cy="389.5" r="1.65" class="d"/>
<circle cx="330.5" cy="389.5" r="1.65" class="d"/>
<circle cx="318" cy="392.5" r="1.65" class="d"/>
<circle cx="323" cy="393" r="1.65" class="d"/>
<circle cx="327.5" cy="392.5" r="1.65" class="d"/>
<circle cx="315" cy="393" r="1.65" class="d"/>
<path d="M227.5 309H256.95" class="sg"/>
<text x="242.77" y="310.1" class="st">*</text>
<path d="M260.35 309H288.7" class="sg"/>
<text x="274.52" y="310.1" class="st">**</text>
<path d="M292.1 309H322.55" class="sg"/>
<text x="306.27" y="310.1" class="st">**</text>
<text x="195" y="405.4" class="r">PD-1</text>
<text x="195" y="417.57" class="r" textLength="15.0" lengthAdjust="spacingAndGlyphs">TIGIT</text>
<text transform="translate(226.9 404.3) scale(1.35 1)" class="pm">-</text>
<text transform="translate(226.9 417.1) scale(1.35 1)" class="pm">-</text>
<text x="258.65" y="405.05" class="pm">+</text>
<text transform="translate(258.65 417.1) scale(1.35 1)" class="pm">-</text>
<text transform="translate(290.4 404.3) scale(1.35 1)" class="pm">-</text>
<text x="290.4" y="417.85" class="pm">+</text>
<text x="322.15" y="405.05" class="pm">+</text>
<text x="322.15" y="417.85" class="pm">+</text>
<text transform="translate(191.4 352.1) rotate(-90)" class="yl" textLength="68.2" lengthAdjust="spacingAndGlyphs">%CD39<tspan class="sup" dy="-2.9">+</tspan><tspan dy="2.9">&#8203;</tspan>CD103<tspan class="sup" dy="-2.9">+</tspan><tspan dy="2.9">&#8203;</tspan>&#160;of&#160;Tconv</text>
<rect x="397.2" y="391.5" width="20.8" height="2.5" fill="#ffffff" class="bar0"/>
<rect x="428.95" y="379.2" width="20.8" height="14.8" fill="#f6848a" class="bar"/>
<rect x="460.7" y="391.8" width="20.8" height="2.2" fill="#ff0505" class="bar"/>
<rect x="492.45" y="380.9" width="20.8" height="13.1" fill="#b40008" class="bar"/>
<path d="M391.7 309.1V394H519.2" class="ax"/>
<path d="M389.7 394H391.7" class="tk"/>
<text transform="translate(389.3 396.9) scale(1.1 1)" class="t">0</text>
<path d="M389.7 372.9H391.7" class="tk"/>
<text transform="translate(389.3 375.8) scale(1.1 1)" class="t">10</text>
<path d="M389.7 351.8H391.7" class="tk"/>
<text transform="translate(389.3 354.7) scale(1.1 1)" class="t">20</text>
<path d="M389.7 330.7H391.7" class="tk"/>
<text transform="translate(389.3 333.6) scale(1.1 1)" class="t">30</text>
<path d="M389.7 309.6H391.7" class="tk"/>
<text transform="translate(389.3 312.5) scale(1.1 1)" class="t">40</text>
<circle cx="400.7" cy="386.5" r="1.65" class="d"/>
<circle cx="406.6" cy="388" r="1.65" class="d"/>
<circle cx="413.9" cy="386.5" r="1.65" class="d"/>
<circle cx="398.5" cy="389.5" r="1.65" class="d"/>
<circle cx="398.5" cy="392" r="1.65" class="d"/>
<circle cx="402" cy="391.5" r="1.65" class="d"/>
<circle cx="405.5" cy="392" r="1.65" class="d"/>
<circle cx="409" cy="391.5" r="1.65" class="d"/>
<circle cx="412.5" cy="392" r="1.65" class="d"/>
<circle cx="416" cy="392" r="1.65" class="d"/>
<circle cx="403" cy="389.5" r="1.65" class="d"/>
<circle cx="439.1" cy="318.8" r="1.65" class="d"/>
<circle cx="439.1" cy="332.4" r="1.65" class="d"/>
<circle cx="439.1" cy="377.2" r="1.65" class="d"/>
<circle cx="439.5" cy="380.3" r="1.65" class="d"/>
<circle cx="438.5" cy="382.3" r="1.65" class="d"/>
<circle cx="431.5" cy="391.5" r="1.65" class="d"/>
<circle cx="435" cy="391" r="1.65" class="d"/>
<circle cx="438.5" cy="391.5" r="1.65" class="d"/>
<circle cx="442" cy="391" r="1.65" class="d"/>
<circle cx="445.5" cy="391.5" r="1.65" class="d"/>
<circle cx="448" cy="391.5" r="1.65" class="d"/>
<circle cx="464.3" cy="387.4" r="1.65" class="d"/>
<circle cx="469.7" cy="386.6" r="1.65" class="d"/>
<circle cx="473.6" cy="389.3" r="1.65" class="d"/>
<circle cx="461.5" cy="391.5" r="1.65" class="d"/>
<circle cx="465" cy="392" r="1.65" class="d"/>
<circle cx="468.5" cy="391.5" r="1.65" class="d"/>
<circle cx="472" cy="392" r="1.65" class="d"/>
<circle cx="475.5" cy="391.5" r="1.65" class="d"/>
<circle cx="478.5" cy="392" r="1.65" class="d"/>
<circle cx="467" cy="389" r="1.65" class="d"/>
<circle cx="502.7" cy="323.2" r="1.65" class="d"/>
<circle cx="502.7" cy="326.7" r="1.65" class="d"/>
<circle cx="502.7" cy="362.6" r="1.65" class="d"/>
<circle cx="502.7" cy="370.1" r="1.65" class="d"/>
<circle cx="502.7" cy="376.3" r="1.65" class="d"/>
<circle cx="502.7" cy="384" r="1.65" class="d"/>
<circle cx="498" cy="387.5" r="1.65" class="d"/>
<circle cx="507" cy="387" r="1.65" class="d"/>
<circle cx="495.5" cy="391" r="1.65" class="d"/>
<circle cx="500" cy="391.5" r="1.65" class="d"/>
<circle cx="504.5" cy="391" r="1.65" class="d"/>
<circle cx="509" cy="391.5" r="1.65" class="d"/>
<circle cx="497.5" cy="393.5" r="1.65" class="d"/>
<circle cx="502.5" cy="393.5" r="1.65" class="d"/>
<circle cx="507.5" cy="393.5" r="1.65" class="d"/>
<text x="375.6" y="405.5" class="r">PD-1</text>
<text x="375.6" y="417.67" class="r" textLength="15.0" lengthAdjust="spacingAndGlyphs">TIGIT</text>
<text transform="translate(407.6 404.4) scale(1.35 1)" class="pm">-</text>
<text transform="translate(407.6 417.2) scale(1.35 1)" class="pm">-</text>
<text x="439.35" y="405.15" class="pm">+</text>
<text transform="translate(439.35 417.2) scale(1.35 1)" class="pm">-</text>
<text transform="translate(471.1 404.4) scale(1.35 1)" class="pm">-</text>
<text x="471.1" y="417.95" class="pm">+</text>
<text x="502.85" y="405.15" class="pm">+</text>
<text x="502.85" y="417.95" class="pm">+</text>
<text transform="translate(372.6 351.65) rotate(-90)" class="yl" textLength="67.3" lengthAdjust="spacingAndGlyphs">%CD39<tspan class="sup" dy="-2.9">+</tspan><tspan dy="2.9">&#8203;</tspan>CD103<tspan class="sup" dy="-2.9">+</tspan><tspan dy="2.9">&#8203;</tspan>&#160;of&#160;Treg</text>
<rect x="35.45" y="513.7" width="20.8" height="29.5" fill="#ffffff" class="bar0"/>
<rect x="67.2" y="519.5" width="20.8" height="23.7" fill="#f6848a" class="bar"/>
<rect x="98.95" y="489.5" width="20.8" height="53.7" fill="#ff0505" class="bar"/>
<rect x="130.7" y="496" width="20.8" height="47.2" fill="#b40008" class="bar"/>
<path d="M29.95 458.6V543.2H157.45" class="ax"/>
<path d="M27.95 543.2H29.95" class="tk"/>
<text transform="translate(27.55 546.1) scale(1.1 1)" class="t">0</text>
<path d="M27.95 526.38H29.95" class="tk"/>
<text transform="translate(27.55 529.28) scale(1.1 1)" class="t">20</text>
<path d="M27.95 509.56H29.95" class="tk"/>
<text transform="translate(27.55 512.46) scale(1.1 1)" class="t">40</text>
<path d="M27.95 492.74H29.95" class="tk"/>
<text transform="translate(27.55 495.64) scale(1.1 1)" class="t">60</text>
<path d="M27.95 475.92H29.95" class="tk"/>
<text transform="translate(27.55 478.82) scale(1.1 1)" class="t">80</text>
<path d="M27.95 459.1H29.95" class="tk"/>
<text transform="translate(27.55 462) scale(1.1 1)" class="t">100</text>
<circle cx="39.9" cy="485.8" r="1.65" class="d"/>
<circle cx="45.9" cy="483.5" r="1.65" class="d"/>
<circle cx="52" cy="486.4" r="1.65" class="d"/>
<circle cx="45.9" cy="505" r="1.65" class="d"/>
<circle cx="45.9" cy="510.4" r="1.65" class="d"/>
<circle cx="45.9" cy="514.2" r="1.65" class="d"/>
<circle cx="42.9" cy="517.7" r="1.65" class="d"/>
<circle cx="36.9" cy="520.8" r="1.65" class="d"/>
<circle cx="42.9" cy="522" r="1.65" class="d"/>
<circle cx="49" cy="521.5" r="1.65" class="d"/>
<circle cx="55" cy="521.8" r="1.65" class="d"/>
<circle cx="45.9" cy="525.8" r="1.65" class="d"/>
<circle cx="42.9" cy="537.1" r="1.65" class="d"/>
<circle cx="49" cy="536.3" r="1.65" class="d"/>
<circle cx="77.8" cy="492.8" r="1.65" class="d"/>
<circle cx="77.8" cy="498.8" r="1.65" class="d"/>
<circle cx="77.8" cy="509.6" r="1.65" class="d"/>
<circle cx="77.8" cy="513.1" r="1.65" class="d"/>
<circle cx="68.9" cy="520" r="1.65" class="d"/>
<circle cx="74.7" cy="518.3" r="1.65" class="d"/>
<circle cx="74.7" cy="522.9" r="1.65" class="d"/>
<circle cx="80.7" cy="521.2" r="1.65" class="d"/>
<circle cx="86.5" cy="520.6" r="1.65" class="d"/>
<circle cx="68.9" cy="527.6" r="1.65" class="d"/>
<circle cx="80.7" cy="525.8" r="1.65" class="d"/>
<circle cx="80.7" cy="528.7" r="1.65" class="d"/>
<circle cx="86.5" cy="527" r="1.65" class="d"/>
<circle cx="77.8" cy="532.2" r="1.65" class="d"/>
<circle cx="77.8" cy="534" r="1.65" class="d"/>
<circle cx="77.8" cy="536.9" r="1.65" class="d"/>
<circle cx="109.4" cy="464.5" r="1.65" class="d"/>
<circle cx="106.3" cy="471.3" r="1.65" class="d"/>
<circle cx="112.4" cy="470.3" r="1.65" class="d"/>
<circle cx="109.4" cy="478.1" r="1.65" class="d"/>
<circle cx="112.4" cy="484.2" r="1.65" class="d"/>
<circle cx="106.3" cy="487.5" r="1.65" class="d"/>
<circle cx="100.3" cy="493.2" r="1.65" class="d"/>
<circle cx="106.3" cy="492" r="1.65" class="d"/>
<circle cx="112.4" cy="492.9" r="1.65" class="d"/>
<circle cx="118.2" cy="492" r="1.65" class="d"/>
<circle cx="106.3" cy="501.6" r="1.65" class="d"/>
<circle cx="112.4" cy="500" r="1.65" class="d"/>
<circle cx="106.3" cy="512.1" r="1.65" class="d"/>
<circle cx="112.4" cy="511.1" r="1.65" class="d"/>
<circle cx="138.1" cy="469.4" r="1.65" class="d"/>
<circle cx="138.1" cy="473.9" r="1.65" class="d"/>
<circle cx="144.1" cy="472.8" r="1.65" class="d"/>
<circle cx="132" cy="491.4" r="1.65" class="d"/>
<circle cx="138.1" cy="493.5" r="1.65" class="d"/>
<circle cx="144.1" cy="491.7" r="1.65" class="d"/>
<circle cx="149.7" cy="491.7" r="1.65" class="d"/>
<circle cx="144.1" cy="494" r="1.65" class="d"/>
<circle cx="138.1" cy="498.1" r="1.65" class="d"/>
<circle cx="138.1" cy="502.3" r="1.65" class="d"/>
<circle cx="144.1" cy="501.6" r="1.65" class="d"/>
<circle cx="141" cy="506.5" r="1.65" class="d"/>
<circle cx="138.1" cy="512.6" r="1.65" class="d"/>
<circle cx="144.1" cy="512.9" r="1.65" class="d"/>
<circle cx="141" cy="524.7" r="1.65" class="d"/>
<path d="M46.45 435.5H141.5" class="sg"/>
<text x="93.47" y="436.6" class="st">*</text>
<path d="M78.2 443H141.5" class="sg"/>
<text x="109.35" y="444.1" class="st">****</text>
<path d="M46.45 450.8H109.75" class="sg"/>
<text x="77.6" y="451.9" class="st">****</text>
<path d="M78.2 458H109.75" class="sg"/>
<text x="93.47" y="459.1" class="st">****</text>
<text x="13.8" y="554.7" class="r">PD-1</text>
<text x="13.8" y="566.87" class="r" textLength="15.0" lengthAdjust="spacingAndGlyphs">TIGIT</text>
<text transform="translate(45.85 553.6) scale(1.35 1)" class="pm">-</text>
<text transform="translate(45.85 566.4) scale(1.35 1)" class="pm">-</text>
<text x="77.6" y="554.35" class="pm">+</text>
<text transform="translate(77.6 566.4) scale(1.35 1)" class="pm">-</text>
<text transform="translate(109.35 553.6) scale(1.35 1)" class="pm">-</text>
<text x="109.35" y="567.15" class="pm">+</text>
<text x="141.1" y="554.35" class="pm">+</text>
<text x="141.1" y="567.15" class="pm">+</text>
<text transform="translate(10.1 501.5) rotate(-90)" class="yl" textLength="52.6" lengthAdjust="spacingAndGlyphs">%EOMES<tspan class="sup" dy="-2.9">+</tspan><tspan dy="2.9">&#8203;</tspan>&#160;of&#160;CD8<tspan class="sup" dy="-2.9">+</tspan><tspan dy="2.9">&#8203;</tspan></text>
<rect x="216.5" y="531.3" width="20.8" height="11.8" fill="#ffffff" class="bar0"/>
<rect x="248.25" y="512.1" width="20.8" height="31" fill="#f6848a" class="bar"/>
<rect x="280" y="532.2" width="20.8" height="10.9" fill="#ff0505" class="bar"/>
<rect x="311.75" y="516.2" width="20.8" height="26.9" fill="#b40008" class="bar"/>
<path d="M211 458.6V543.1H338.5" class="ax"/>
<path d="M209 543.1H211" class="tk"/>
<text transform="translate(208.6 546) scale(1.1 1)" class="t">0</text>
<path d="M209 526.3H211" class="tk"/>
<text transform="translate(208.6 529.2) scale(1.1 1)" class="t">10</text>
<path d="M209 509.5H211" class="tk"/>
<text transform="translate(208.6 512.4) scale(1.1 1)" class="t">20</text>
<path d="M209 492.7H211" class="tk"/>
<text transform="translate(208.6 495.6) scale(1.1 1)" class="t">30</text>
<path d="M209 475.9H211" class="tk"/>
<text transform="translate(208.6 478.8) scale(1.1 1)" class="t">40</text>
<path d="M209 459.1H211" class="tk"/>
<text transform="translate(208.6 462) scale(1.1 1)" class="t">50</text>
<circle cx="226.9" cy="469.1" r="1.65" class="d"/>
<circle cx="226.9" cy="514.4" r="1.65" class="d"/>
<circle cx="226.9" cy="531.3" r="1.65" class="d"/>
<circle cx="222.4" cy="535.6" r="1.65" class="d"/>
<circle cx="226.9" cy="537.5" r="1.65" class="d"/>
<circle cx="231.3" cy="537.5" r="1.65" class="d"/>
<circle cx="218" cy="538.8" r="1.65" class="d"/>
<circle cx="235.8" cy="539.5" r="1.65" class="d"/>
<circle cx="222.4" cy="540.1" r="1.65" class="d"/>
<circle cx="226.9" cy="541.5" r="1.65" class="d"/>
<circle cx="231.3" cy="541.2" r="1.65" class="d"/>
<circle cx="218" cy="543" r="1.65" class="d"/>
<circle cx="235.8" cy="543" r="1.65" class="d"/>
<circle cx="258.6" cy="474.4" r="1.65" class="d"/>
<circle cx="258.6" cy="486" r="1.65" class="d"/>
<circle cx="258.6" cy="490.5" r="1.65" class="d"/>
<circle cx="258.6" cy="495.2" r="1.65" class="d"/>
<circle cx="258.6" cy="500.5" r="1.65" class="d"/>
<circle cx="252" cy="511.1" r="1.65" class="d"/>
<circle cx="258.6" cy="512.6" r="1.65" class="d"/>
<circle cx="265.6" cy="509.1" r="1.65" class="d"/>
<circle cx="258.6" cy="517.9" r="1.65" class="d"/>
<circle cx="252" cy="525" r="1.65" class="d"/>
<circle cx="258.6" cy="525.7" r="1.65" class="d"/>
<circle cx="265.6" cy="525.3" r="1.65" class="d"/>
<circle cx="255" cy="533" r="1.65" class="d"/>
<circle cx="262" cy="533.3" r="1.65" class="d"/>
<circle cx="258.6" cy="538.6" r="1.65" class="d"/>
<circle cx="290.3" cy="495.1" r="1.65" class="d"/>
<circle cx="290.3" cy="502" r="1.65" class="d"/>
<circle cx="290.3" cy="530.7" r="1.65" class="d"/>
<circle cx="283" cy="539.5" r="1.65" class="d"/>
<circle cx="287" cy="539.5" r="1.65" class="d"/>
<circle cx="290.3" cy="541" r="1.65" class="d"/>
<circle cx="294" cy="539.5" r="1.65" class="d"/>
<circle cx="298" cy="539.5" r="1.65" class="d"/>
<circle cx="290.3" cy="543.5" r="1.65" class="d"/>
<circle cx="322" cy="477.4" r="1.65" class="d"/>
<circle cx="319" cy="497" r="1.65" class="d"/>
<circle cx="325.1" cy="495.5" r="1.65" class="d"/>
<circle cx="322" cy="504.6" r="1.65" class="d"/>
<circle cx="322" cy="508.4" r="1.65" class="d"/>
<circle cx="322" cy="513.6" r="1.65" class="d"/>
<circle cx="325.1" cy="519.7" r="1.65" class="d"/>
<circle cx="319" cy="521.7" r="1.65" class="d"/>
<circle cx="313.5" cy="523.2" r="1.65" class="d"/>
<circle cx="325.1" cy="523.5" r="1.65" class="d"/>
<circle cx="319" cy="526.2" r="1.65" class="d"/>
<circle cx="331" cy="525.7" r="1.65" class="d"/>
<circle cx="322" cy="529.8" r="1.65" class="d"/>
<circle cx="322" cy="533.7" r="1.65" class="d"/>
<circle cx="322" cy="540.1" r="1.65" class="d"/>
<path d="M227.5 450.8H322.55" class="sg"/>
<text x="274.52" y="451.9" class="st">**</text>
<path d="M227.5 458.2H256.95" class="sg"/>
<text x="242.77" y="459.3" class="st">*</text>
<path d="M260.35 458.2H288.7" class="sg"/>
<text x="274.52" y="459.3" class="st">*</text>
<path d="M292.1 458.2H322.55" class="sg"/>
<text x="306.27" y="459.3" class="st">**</text>
<text x="195" y="554.6" class="r">PD-1</text>
<text x="195" y="566.77" class="r" textLength="15.0" lengthAdjust="spacingAndGlyphs">TIGIT</text>
<text transform="translate(226.9 553.5) scale(1.35 1)" class="pm">-</text>
<text transform="translate(226.9 566.3) scale(1.35 1)" class="pm">-</text>
<text x="258.65" y="554.25" class="pm">+</text>
<text transform="translate(258.65 566.3) scale(1.35 1)" class="pm">-</text>
<text transform="translate(290.4 553.5) scale(1.35 1)" class="pm">-</text>
<text x="290.4" y="567.05" class="pm">+</text>
<text x="322.15" y="554.25" class="pm">+</text>
<text x="322.15" y="567.05" class="pm">+</text>
<text transform="translate(191.4 501.25) rotate(-90)" class="yl" textLength="53.1" lengthAdjust="spacingAndGlyphs">%EOMES<tspan class="sup" dy="-2.9">+</tspan><tspan dy="2.9">&#8203;</tspan>&#160;of&#160;Tconv</text>
<rect x="397.2" y="520.1" width="20.8" height="23" fill="#ffffff" class="bar0"/>
<rect x="428.95" y="514.7" width="20.8" height="28.4" fill="#f6848a" class="bar"/>
<rect x="460.7" y="538.8" width="20.8" height="4.3" fill="#ff0505" class="bar"/>
<rect x="492.45" y="538.1" width="20.8" height="5" fill="#b40008" class="bar"/>
<path d="M391.7 458.6V543.1H519.2" class="ax"/>
<path d="M389.7 543.1H391.7" class="tk"/>
<text transform="translate(389.3 546) scale(1.1 1)" class="t">0</text>
<path d="M389.7 515.1H391.7" class="tk"/>
<text transform="translate(389.3 518) scale(1.1 1)" class="t">20</text>
<path d="M389.7 487.1H391.7" class="tk"/>
<text transform="translate(389.3 490) scale(1.1 1)" class="t">40</text>
<path d="M389.7 459.1H391.7" class="tk"/>
<text transform="translate(389.3 462) scale(1.1 1)" class="t">60</text>
<circle cx="407.4" cy="466.8" r="1.65" class="d"/>
<circle cx="407.4" cy="529.8" r="1.65" class="d"/>
<circle cx="403.9" cy="542.4" r="1.65" class="d"/>
<circle cx="410.8" cy="541.6" r="1.65" class="d"/>
<circle cx="439.4" cy="472.4" r="1.65" class="d"/>
<circle cx="439.4" cy="511.7" r="1.65" class="d"/>
<circle cx="439.4" cy="521.7" r="1.65" class="d"/>
<circle cx="436.1" cy="533.7" r="1.65" class="d"/>
<circle cx="442.9" cy="532.5" r="1.65" class="d"/>
<circle cx="470.6" cy="511.9" r="1.65" class="d"/>
<circle cx="461.5" cy="542" r="1.65" class="d"/>
<circle cx="465" cy="541.5" r="1.65" class="d"/>
<circle cx="469" cy="542" r="1.65" class="d"/>
<circle cx="473" cy="541.5" r="1.65" class="d"/>
<circle cx="477" cy="542" r="1.65" class="d"/>
<circle cx="480" cy="541.5" r="1.65" class="d"/>
<circle cx="502.5" cy="521.3" r="1.65" class="d"/>
<circle cx="502.5" cy="529.4" r="1.65" class="d"/>
<circle cx="494" cy="540" r="1.65" class="d"/>
<circle cx="497.5" cy="540.5" r="1.65" class="d"/>
<circle cx="501" cy="540" r="1.65" class="d"/>
<circle cx="504.5" cy="540.5" r="1.65" class="d"/>
<circle cx="508" cy="540" r="1.65" class="d"/>
<circle cx="511.5" cy="540.5" r="1.65" class="d"/>
<circle cx="496" cy="542.5" r="1.65" class="d"/>
<circle cx="506" cy="542.5" r="1.65" class="d"/>
<text x="375.6" y="554.6" class="r">PD-1</text>
<text x="375.6" y="566.77" class="r" textLength="15.0" lengthAdjust="spacingAndGlyphs">TIGIT</text>
<text transform="translate(407.6 553.5) scale(1.35 1)" class="pm">-</text>
<text transform="translate(407.6 566.3) scale(1.35 1)" class="pm">-</text>
<text x="439.35" y="554.25" class="pm">+</text>
<text transform="translate(439.35 566.3) scale(1.35 1)" class="pm">-</text>
<text transform="translate(471.1 553.5) scale(1.35 1)" class="pm">-</text>
<text x="471.1" y="567.05" class="pm">+</text>
<text x="502.85" y="554.25" class="pm">+</text>
<text x="502.85" y="567.05" class="pm">+</text>
<text transform="translate(372.6 501.25) rotate(-90)" class="yl" textLength="49.9" lengthAdjust="spacingAndGlyphs">%EOMES<tspan class="sup" dy="-2.9">+</tspan><tspan dy="2.9">&#8203;</tspan>&#160;of&#160;Treg</text>
</svg></body></html>
